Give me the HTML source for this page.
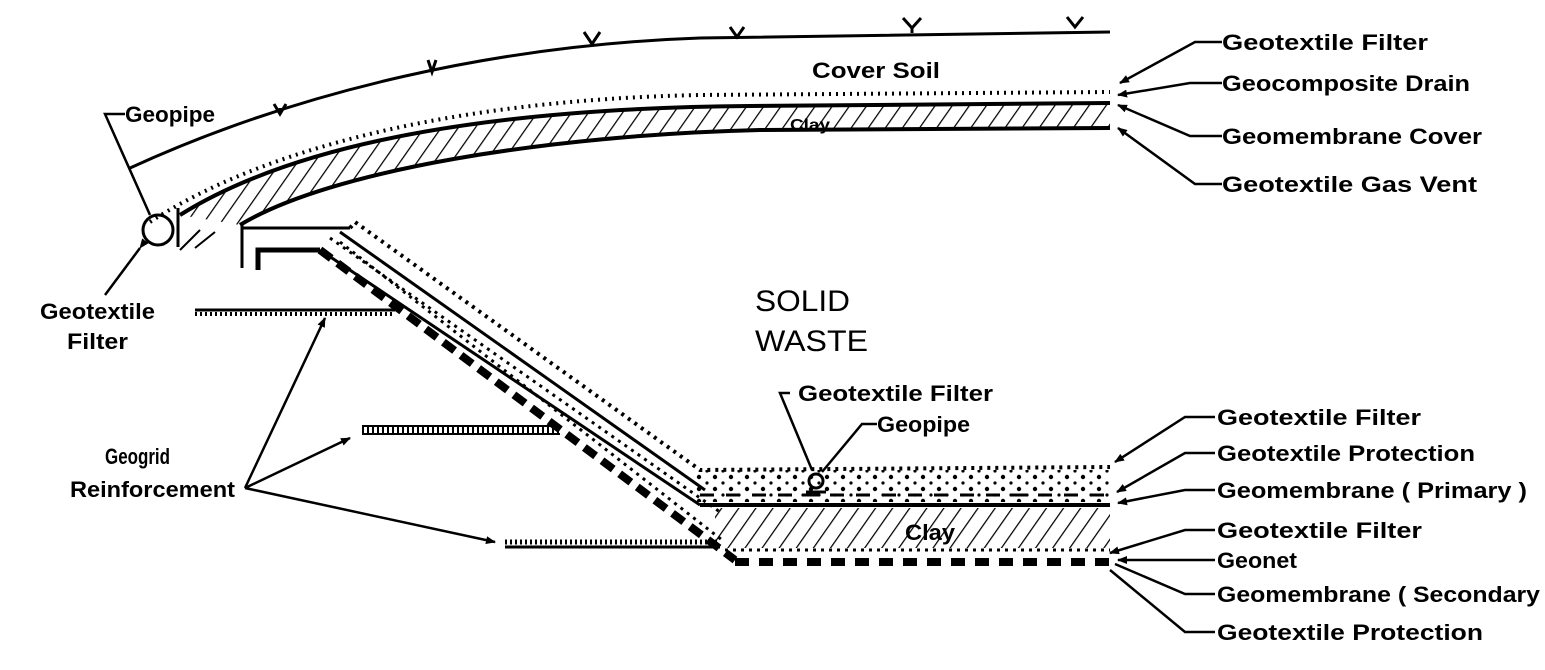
<!DOCTYPE html>
<html><head><meta charset="utf-8"><style>
html,body{margin:0;padding:0;background:#fff;}
svg{display:block}
text{font-family:"Liberation Sans",sans-serif;font-weight:bold;fill:#000;}
</style></head><body>
<svg width="1545" height="670" viewBox="0 0 1545 670" xmlns="http://www.w3.org/2000/svg">
<defs>
<pattern id="hatch" width="14" height="14" patternUnits="userSpaceOnUse" patternTransform="rotate(35)">
<line x1="0" y1="0" x2="0" y2="14" stroke="#000" stroke-width="2.5"/></pattern>
<pattern id="dots" width="16" height="12" patternUnits="userSpaceOnUse">
<circle cx="3" cy="3" r="1.6" fill="#000"/><circle cx="11" cy="9" r="2.2" fill="#000"/></pattern>
<marker id="ar" markerWidth="10" markerHeight="8" refX="9" refY="4" orient="auto" markerUnits="userSpaceOnUse"><path d="M0,0 L10,4 L0,8 z" fill="#000"/></marker>
</defs>
<g fill="none" stroke="#000">
<path d="M130,168 C300,90 500,45 700,38 L1110,32" stroke-width="3"/>
<g stroke-width="3">
<path d="M274,104 l6,10 l6,-10 M280,114 v-6"/><path d="M428,60 l4,12 l4,-12"/><path d="M584,32 l8,12 l8,-12"/><path d="M730,27 l7,10 l7,-10"/><path d="M903,18 l9,10 l9,-10 M912,28 v5"/><path d="M1067,17 l8,10 l8,-10"/>
</g>
<path d="M150,222 C260,150 450,100 700,95 L1110,92" stroke-width="4" stroke-dasharray="2,5"/>
<path d="M180,215 C300,140 500,108 750,106 L1110,103 L1110,128 L760,130 C550,135 330,170 240,225 Z" fill="url(#hatch)" stroke="none"/>
<path d="M180,215 C300,140 500,108 750,106 L1110,103" stroke-width="4"/>
<path d="M240,225 C330,170 550,135 760,130 L1110,128" stroke-width="4"/>
<path d="M200,230 L180,250 M215,232 L195,248" stroke-width="2"/>
<circle cx="158" cy="230" r="15" stroke-width="3"/>
<path d="M178,208 V247" stroke-width="3"/>
<path d="M242,225 V268 M242,228 H350" stroke-width="3"/>
<path d="M258,270 V250 H320" stroke-width="5"/>
<path d="M350,228 L355,222 L700,470 L1110,467" stroke-width="4" stroke-dasharray="3,5"/>
<path d="M320,250 L700,505" stroke-width="3"/>
<path d="M320,250 L735,560" stroke-width="8" stroke-dasharray="14,8"/>
<path d="M330,238 L720,512 M340,242 L722,540" stroke-width="3" stroke-dasharray="3,5"/>
<path d="M340,232 L705,490" stroke-width="3"/>
<rect x="695" y="470" width="415" height="32" fill="url(#dots)" stroke="none"/>
<path d="M700,495 H1110" stroke-width="3" stroke-dasharray="14,12"/>
<path d="M700,505 H1110" stroke-width="4"/>
<rect x="715" y="508" width="395" height="40" fill="url(#hatch)" stroke="none"/>
<path d="M725,550 H1110" stroke-width="3" stroke-dasharray="3,5"/>
<path d="M735,562 H1110" stroke-width="8" stroke-dasharray="14,10"/>
<circle cx="816" cy="481" r="7" stroke-width="3"/>
<path d="M806,492 H826" stroke-width="3"/>
<path d="M195,310 H395" stroke-width="3"/><path d="M195,314 H395" stroke-width="4" stroke-dasharray="2,3"/>
<path d="M362,426 H560 M362,434 H560" stroke-width="2"/><path d="M362,430 H560" stroke-width="6" stroke-dasharray="2,3"/>
<path d="M505,547 H720" stroke-width="3"/><path d="M505,542 H720" stroke-width="5" stroke-dasharray="2,3"/>
<g stroke-width="2.5">
<path d="M1222,42 H1195 L1120,83" marker-end="url(#ar)"/>
<path d="M1222,83 H1190 L1118,95" marker-end="url(#ar)"/>
<path d="M1222,136 H1190 L1118,105" marker-end="url(#ar)"/>
<path d="M1222,184 H1195 L1118,128" marker-end="url(#ar)"/>
<path d="M125,114 H105 L150,215" />
<path d="M140,248 L105,295" marker-start="url(#ar)"/>
<path d="M1215,417 H1185 L1115,462" marker-end="url(#ar)"/>
<path d="M1215,453 H1185 L1117,492" marker-end="url(#ar)"/>
<path d="M1215,490 H1185 L1118,503" marker-end="url(#ar)"/>
<path d="M1215,530 H1185 L1110,553" marker-end="url(#ar)"/>
<path d="M1215,560 H1118" marker-end="url(#ar)"/>
<path d="M1215,594 H1185 L1115,564"/>
<path d="M1215,632 H1185 L1110,570"/>
<path d="M790,393 H780 L812,470"/>
<path d="M877,424 H862 L822,472"/>
<path d="M245,488 L325,318" marker-end="url(#ar)"/>
<path d="M245,488 L350,438" marker-end="url(#ar)"/>
<path d="M245,488 L495,542" marker-end="url(#ar)"/>
</g>
</g>
<g font-size="22">
<text x="1222" y="50" textLength="206" lengthAdjust="spacingAndGlyphs">Geotextile Filter</text>
<text x="1222" y="91" textLength="248" lengthAdjust="spacingAndGlyphs">Geocomposite Drain</text>
<text x="1222" y="144" textLength="260" lengthAdjust="spacingAndGlyphs">Geomembrane Cover</text>
<text x="1222" y="192" textLength="255" lengthAdjust="spacingAndGlyphs">Geotextile Gas Vent</text>
<text x="1217" y="425" textLength="204" lengthAdjust="spacingAndGlyphs">Geotextile Filter</text>
<text x="1217" y="461" textLength="258" lengthAdjust="spacingAndGlyphs">Geotextile Protection</text>
<text x="1217" y="498" textLength="310" lengthAdjust="spacingAndGlyphs">Geomembrane ( Primary )</text>
<text x="1217" y="538" textLength="205" lengthAdjust="spacingAndGlyphs">Geotextile Filter</text>
<text x="1217" y="568" textLength="80" lengthAdjust="spacingAndGlyphs">Geonet</text>
<text x="1217" y="602" textLength="323" lengthAdjust="spacingAndGlyphs">Geomembrane ( Secondary</text>
<text x="1217" y="640" textLength="266" lengthAdjust="spacingAndGlyphs">Geotextile Protection</text>
<text x="125" y="122" textLength="90" lengthAdjust="spacingAndGlyphs">Geopipe</text>
<text x="40" y="319" textLength="115" lengthAdjust="spacingAndGlyphs">Geotextile</text>
<text x="67" y="349" textLength="61" lengthAdjust="spacingAndGlyphs">Filter</text>
<text x="105" y="464" textLength="65" lengthAdjust="spacingAndGlyphs">Geogrid</text>
<text x="70" y="497" textLength="165" lengthAdjust="spacingAndGlyphs">Reinforcement</text>
<text x="812" y="78" textLength="128" lengthAdjust="spacingAndGlyphs">Cover Soil</text>
<text x="798" y="401" textLength="195" lengthAdjust="spacingAndGlyphs">Geotextile Filter</text>
<text x="877" y="432" textLength="93" lengthAdjust="spacingAndGlyphs">Geopipe</text>
<text x="905" y="540" textLength="50" lengthAdjust="spacingAndGlyphs">Clay</text>
<text x="790" y="130" font-size="16" textLength="40" lengthAdjust="spacingAndGlyphs">Clay</text>
</g>
<g font-size="30">
<text x="755" y="311" textLength="95" lengthAdjust="spacingAndGlyphs" style="font-weight:normal">SOLID</text>
<text x="755" y="351" textLength="113" lengthAdjust="spacingAndGlyphs" style="font-weight:normal">WASTE</text>
</g>
</svg>
</body></html>
